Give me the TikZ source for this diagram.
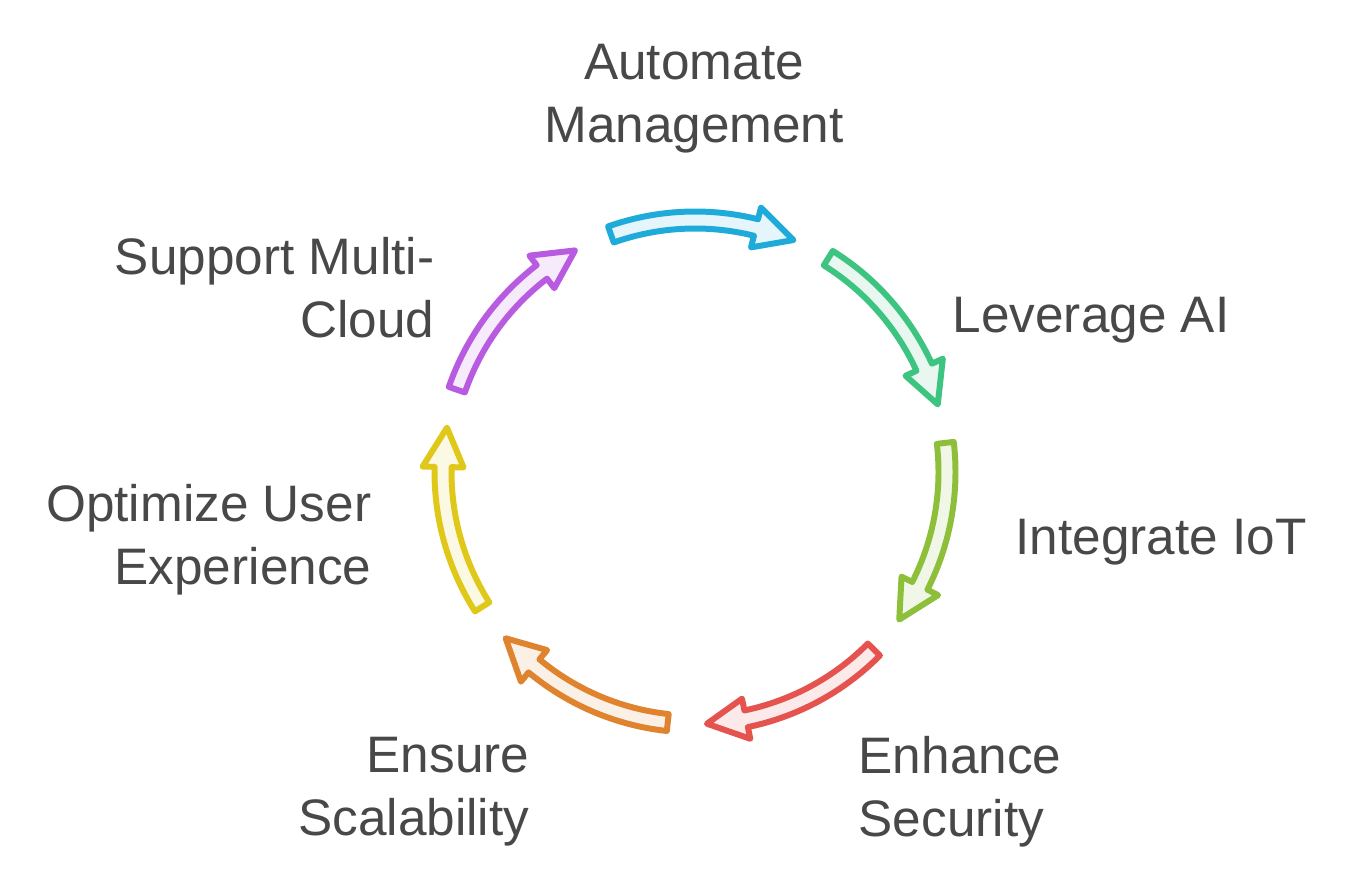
\documentclass[tikz,border=0pt]{standalone}
\usepackage{fontspec}
\setmainfont{Liberation Sans}
\usepackage{xcolor}
\usepackage{tikz}
\usetikzlibrary{calc}

\definecolor{txtgray}{HTML}{484848}
\definecolor{cautomate}{HTML}{1EABDA}
\definecolor{cleverage}{HTML}{3CC480}
\definecolor{cintegrate}{HTML}{8DBF3A}
\definecolor{cenhance}{HTML}{E5534F}
\definecolor{censure}{HTML}{E0832E}
\definecolor{coptimize}{HTML}{E0C81A}
\definecolor{csupport}{HTML}{B85BE0}

\begin{document}
\begin{tikzpicture}[
  cyclelabel/.style={inner sep=0pt, text=txtgray, font=\fontsize{14.6}{18}\selectfont},
  arrowband/.style={line width=1.7pt, line join=round},
]
\useasboundingbox (0,0) rectangle (13.55,8.82);
\coordinate (O) at (6.95,4.10);

% curved arrows of the cycle
\begin{scope}[shift={(O)}]
\foreach \c/\col [evaluate=\c as \a using \c+21, evaluate=\c as \b using \c-12.5, evaluate=\c as \t using \c-21.5] in
  {88.5/cautomate, 37.07/cleverage, -14.36/cintegrate, -65.79/cenhance, -117.21/censure, -168.64/coptimize, -220.07/csupport}
  \draw[arrowband, draw=\col, fill=\col!12]
    (\a:2.605) arc[start angle=\a, end angle=\b, radius=2.605]
    -- (\b:2.725) -- (\t:2.52) -- (\b:2.315) -- (\b:2.435)
    arc[start angle=\b, end angle=\a, radius=2.435] -- cycle;
\end{scope}

% labels
\node[cyclelabel, align=center] (automate) at (6.94,7.83) {Automate\\Management};
\node[cyclelabel, anchor=west] (leverage) at (9.52,5.62) {Leverage AI};
\node[cyclelabel, anchor=west] (integrate) at (10.15,3.40) {Integrate IoT};
\node[cyclelabel, anchor=west, align=left] (enhance) at (8.58,0.90) {Enhance\\Security};
\node[cyclelabel, anchor=east, align=right] (ensure) at (5.30,0.90) {Ensure\\Scalability};
\node[cyclelabel, anchor=east, align=right] (optimize) at (3.72,3.42) {Optimize User\\Experience};
\node[cyclelabel, anchor=east, align=right] (support) at (4.35,5.94) {Support Multi-\\Cloud};
\end{tikzpicture}
\end{document}
